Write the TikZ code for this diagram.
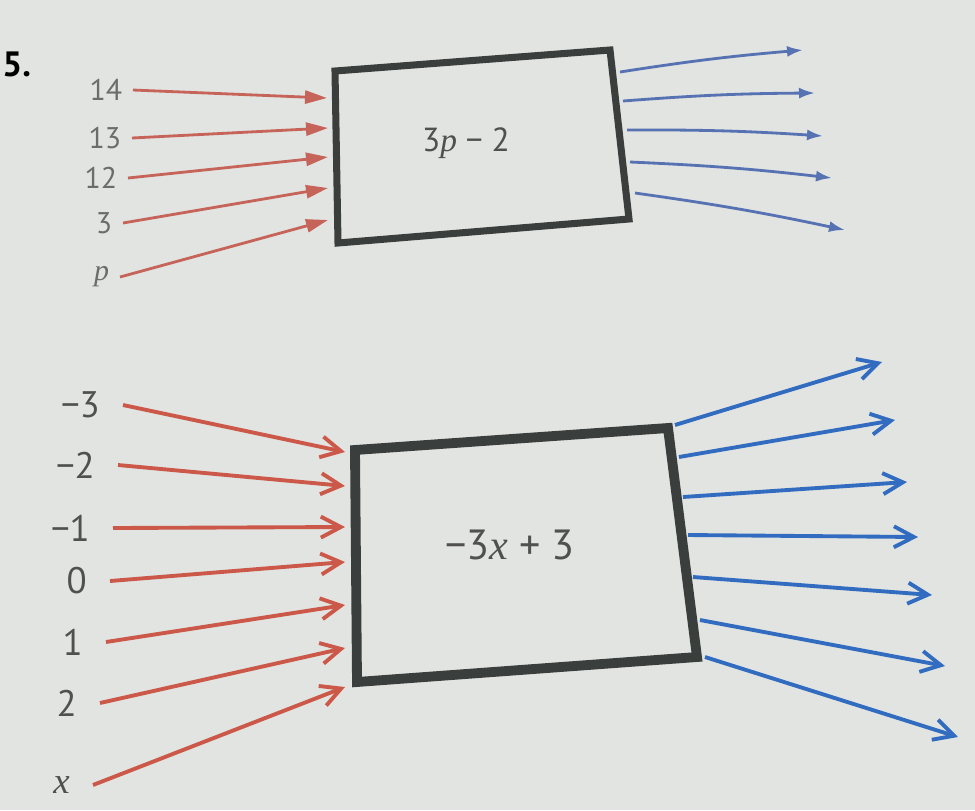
\documentclass[tikz,border=0pt]{standalone}
\usepackage{fontspec}
\setmainfont{PT Sans}
\newfontfamily\varfont{Liberation Serif}
\usetikzlibrary{arrows.meta}
\definecolor{paper}{RGB}{226,228,225}
\definecolor{boxgray}{RGB}{58,62,60}
\definecolor{labelgray}{RGB}{80,80,80}
\definecolor{fadegray}{RGB}{108,108,108}
\definecolor{redtop}{RGB}{198,100,90}
\definecolor{redbot}{RGB}{203,88,72}
\definecolor{bluetop}{RGB}{86,114,178}
\definecolor{bluebot}{RGB}{50,108,192}
\newcommand{\varit}[1]{{\varfont\itshape #1}}
\tikzset{
	machine/.style  = {draw=boxgray, line join=miter},
	in small/.style = {anchor=east, inner xsep=6pt, text=fadegray,
		font=\fontsize{17}{20}\selectfont},
	in large/.style = {anchor=east, inner xsep=13pt, text=labelgray,
		font=\fontsize{21}{24}\selectfont},
	red in/.style   = {draw=redtop, line width=1.6pt,
		-{Triangle[length=4.4mm,width=2.6mm]}},
	blue out/.style = {draw=bluetop, line width=1.6pt,
		-{Latex[length=3.2mm,width=2.2mm]}},
	red barb/.style = {draw=redbot, line width=2.2pt,
		-{Straight Barb[length=4mm,width=4.2mm]}},
	blue barb/.style = {draw=bluebot, line width=2.2pt,
		-{Straight Barb[length=4mm,width=4.2mm]}}
}
\begin{document}
\begin{tikzpicture}[x=0.2mm, y=-0.2mm]
	\useasboundingbox[fill=paper] (0,0) rectangle (975,810);
	\node[anchor=west, inner sep=0pt, font=\bfseries\fontsize{20}{24}\selectfont]
		(num) at (2,64) {5.};
	
	% first machine, 3p - 2
	\coordinate (m1nw) at (335,71);
	\coordinate (m1ne) at (610,50);
	\coordinate (m1se) at (629,219);
	\coordinate (m1sw) at (338,243);
	\draw[machine, line width=4pt] (m1nw) -- (m1ne) -- (m1se) -- (m1sw) -- cycle;
	\node[text=labelgray, font=\fontsize{19}{22}\selectfont] (f1) at (466,143)
		{3\varit{p} − 2};
	\begin{scope}[every node/.style={in small}]
		\node (a1) at (133,90) {14};
		\node (a2) at (132,138) {13};
		\node (a3) at (128,178) {12};
		\node (a4) at (123,223) {3};
		\node (a5) at (120,277) {\varit{p}};
	\end{scope}
	\foreach \value/\x/\y in {1/327/98, 2/328/128, 3/328/157, 4/328/188, 5/328/220}
	\coordinate (ea\value) at (\x,\y);
	\foreach \value in {1,...,5}
	\draw[red in] (a\value.east) -- (ea\value);
	% outputs of the first machine
	\foreach \value/\x/\y in {1/620/72, 2/623/101, 3/627/130, 4/630/162, 5/635/193}
	\coordinate (oa\value) at (\x,\y);
	\foreach \value/\x/\y in {1/803/50, 2/815/93, 3/823/136, 4/832/178, 5/845/230}
	\coordinate (ta\value) at (\x,\y);
	\foreach \value in {1,...,5}
	\draw[blue out] (oa\value) to[bend left=2] (ta\value);
	
	% second machine, -3x + 3
	\coordinate (m2nw) at (355,450);
	\coordinate (m2ne) at (668,428);
	\coordinate (m2se) at (697,657);
	\coordinate (m2sw) at (357,682);
	\draw[machine, line width=5.6pt] (m2nw) -- (m2ne) -- (m2se) -- (m2sw) -- cycle;
	\node[text=labelgray, font=\fontsize{24}{28}\selectfont] (f2) at (510,545)
		{−3\varit{x} + 3};
	\begin{scope}[every node/.style={in large}]
		\node (b1) at (123,405) {−3};
		\node (b2) at (118,465) {−2};
		\node (b3) at (113,528) {−1};
		\node (b4) at (110,581) {0};
		\node (b5) at (106,642) {1};
		\node (b6) at (100,703) {2};
		\node (b7) at (93,785) {\varit{x}};
	\end{scope}
	\foreach \value/\y in {1/452, 2/486, 3/527, 4/562, 5/605, 6/648, 7/687}
	\coordinate (eb\value) at (345,\y);
	\foreach \value in {1,...,7}
	\draw[red barb] (b\value.east) -- (eb\value);
	% outputs of the second machine
	\foreach \value/\x/\y in {1/675/425, 2/679/457, 3/683/497, 4/688/535,
		5/693/577, 6/700/620, 7/705/657}
	\coordinate (ob\value) at (\x,\y);
	\foreach \value/\x/\y in {1/882/362, 2/895/420, 3/907/482, 4/918/537,
		5/932/595, 6/945/666, 7/958/737}
	\coordinate (tb\value) at (\x,\y);
	\foreach \value in {1,...,7}
	\draw[blue barb] (ob\value) -- (tb\value);
\end{tikzpicture}
\end{document}
